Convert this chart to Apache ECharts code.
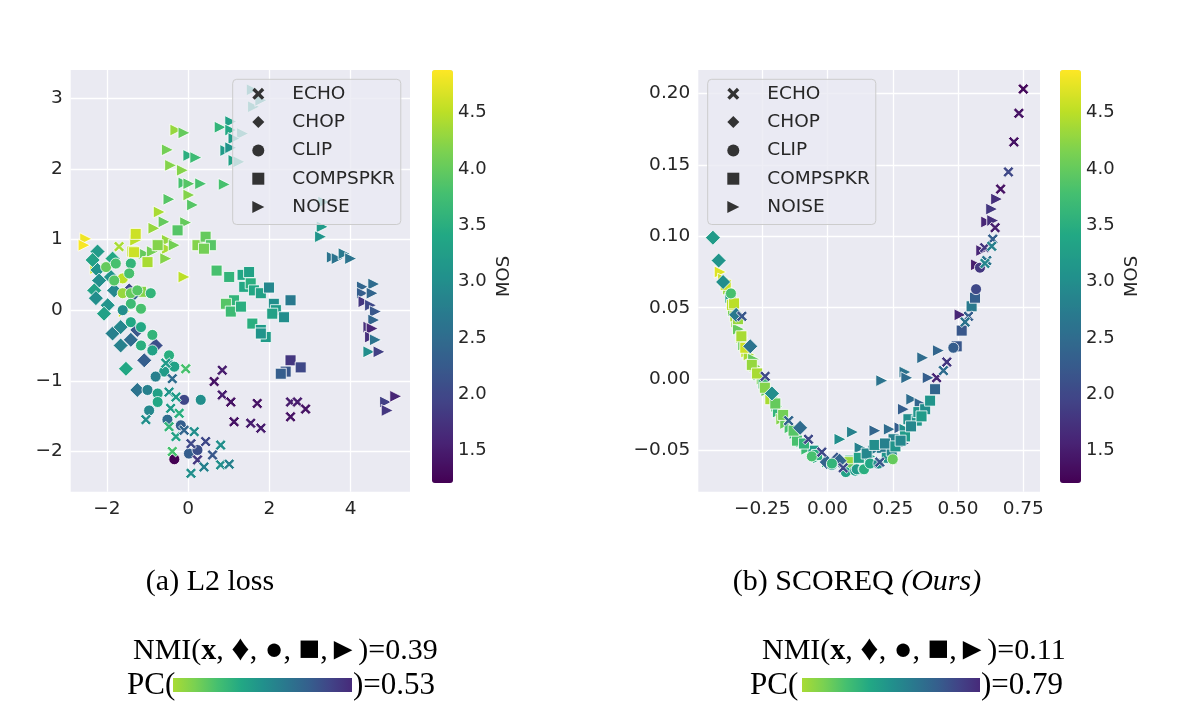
<!DOCTYPE html>
<html>
<head>
<meta charset="utf-8">
<script src="https://cdn.jsdelivr.net/npm/echarts@6.0.0/dist/echarts.min.js"></script>
<style>
  html, body { margin: 0; padding: 0; background: #fff; }
  #main { width: 1183px; height: 703px; }
</style>
</head>
<body>
<div id="main"></div>
<script>
// [x, y, MOS]
const l2Echo = [[-0.06,-0.83,3.8],[0.84,-0.85,1.5],[0.64,-1.01,1.4],[0.84,-1.20,1.5],[1.05,-1.30,1.4],[1.70,-1.32,1.4],
  [2.52,-1.30,1.5],[2.69,-1.30,1.5],[2.89,-1.40,1.4],[2.52,-1.51,1.4],[1.13,-1.58,1.4],[1.54,-1.60,1.5],[1.79,-1.67,1.5],
  [-0.55,-0.75,3.2],[-0.39,-0.97,2.5],[-0.47,-1.16,3.1],[-0.30,-1.23,3.2],[-0.43,-1.39,3.2],[-0.22,-1.46,3.5],
  [-1.04,-1.55,3.0],[-0.47,-1.65,3.6],[-0.30,-1.79,3.3],[-0.10,-1.70,2.4],[0.15,-1.72,3.0],[0.07,-1.89,2.0],
  [0.43,-1.86,2.0],[0.80,-1.91,3.0],[0.23,-2.12,1.8],[0.39,-2.22,2.8],[0.80,-2.19,3.0],[1.01,-2.18,2.8],
  [0.07,-2.31,3.0],[-0.39,-2.00,3.8],[0.60,-2.05,2.2],[-1.70,0.90,4.4]];
const l2Chop = [[-2.23,0.83,3.2],[-2.35,0.71,3.3],[-1.86,0.73,3.4],[-2.23,0.57,3.1],[-2.19,0.42,3.0],[-2.31,0.28,3.3],
  [-2.27,0.17,3.0],[-1.98,0.07,3.1],[-2.07,-0.05,3.3],[-1.86,-0.33,2.8],[-1.66,-0.50,2.8],[-1.41,-0.42,2.5],
  [-1.25,-0.28,2.2],[-0.80,-0.50,2.1],[-1.53,-0.83,3.4],[-1.25,-1.13,2.6],[-1.45,0.28,2.0],[-1.66,-0.24,2.9],
  [-1.37,0.21,2.4],[-1.08,-0.71,2.3],[-1.90,0.47,3.1],[-1.82,0.28,2.9]];
const l2Clip = [[-2.02,0.61,4.0],[-1.78,0.66,3.8],[-1.61,0.45,4.5],[-1.82,0.42,3.9],[-1.41,0.66,3.6],[-1.45,0.52,3.8],
  [-1.61,0.24,4.3],[-1.41,0.24,4.0],[-1.25,0.28,3.9],[-0.92,0.24,3.6],[-1.41,0.09,3.7],[-1.16,0.02,3.8],
  [-1.61,0.00,3.0],[-1.41,-0.17,3.4],[-1.16,-0.24,3.4],[-0.88,-0.35,3.6],[-1.16,-0.50,3.5],[-0.88,-0.57,3.3],
  [-0.47,-0.64,3.5],[-0.43,-0.78,3.1],[-0.34,-0.80,3.3],[-0.59,-0.87,3.2],[-0.80,-0.94,2.8],[-1.00,-1.13,2.8],
  [-0.75,-1.18,3.3],[-0.75,-1.30,3.4],[-0.96,-1.42,2.9],[-0.51,-1.55,2.5],[-0.18,-1.63,2.3],[-0.10,-1.27,2.0],
  [0.31,-1.27,3.0],[0.02,-2.03,2.3],[0.23,-1.98,2.1],[-0.34,-2.11,1.2]];
const l2Compspkr = [[-1.29,1.08,4.6],[-1.37,0.83,4.5],[-1.00,0.68,4.4],[-0.75,0.92,4.2],[-0.26,1.13,3.9],[0.23,0.92,4.2],
  [0.43,1.04,4.0],[0.56,0.92,3.9],[0.39,0.87,4.1],[0.70,0.56,3.8],[1.01,0.47,3.6],[1.34,0.50,3.4],[1.50,0.54,3.3],
  [1.38,0.33,3.4],[1.54,0.38,3.5],[1.62,0.28,3.4],[1.79,0.24,3.3],[1.99,0.32,2.9],[2.11,0.09,3.0],[2.16,0.00,3.2],
  [2.07,-0.05,3.3],[2.36,-0.10,3.0],[2.52,0.14,2.7],[1.58,-0.19,3.5],[1.79,-0.28,3.2],[1.91,-0.38,3.2],
  [1.13,0.14,3.6],[0.93,0.09,3.9],[1.05,-0.02,3.7],[1.30,0.05,3.5],[1.79,-0.33,3.1],[2.52,-0.71,1.8],
  [2.77,-0.81,2.0],[2.40,-0.87,2.2],[2.28,-0.90,2.3],[-1.33,0.82,4.6],[-1.16,0.26,4.2]];
const l2Noise = [[1.58,3.12,3.2],[1.61,2.88,3.3],[1.79,2.97,3.2],[1.05,2.67,3.3],[0.79,2.59,3.6],[1.05,2.55,3.4],
  [1.34,2.50,3.3],[1.13,2.43,3.2],[0.93,2.26,3.2],[1.05,2.30,3.1],[1.13,2.12,3.3],[1.25,2.10,3.4],[-0.30,2.55,4.3],
  [-0.10,2.51,4.0],[-0.51,2.27,4.1],[0.02,2.19,3.5],[0.19,2.16,3.7],[-0.43,2.05,4.2],[-0.14,1.98,4.2],
  [-0.10,1.80,3.8],[0.02,1.79,3.9],[0.31,1.79,3.8],[0.89,1.78,3.8],[-0.47,1.57,3.9],[0.02,1.63,4.2],[0.11,1.49,3.9],
  [-0.71,1.39,4.4],[-0.84,1.16,4.3],[-0.59,1.25,4.0],[-0.06,1.24,4.0],[-2.52,1.01,4.8],[-2.56,0.92,4.85],
  [3.30,1.18,3.2],[3.26,1.04,3.1],[3.34,1.53,3.2],[3.55,0.75,2.6],[3.67,0.73,2.6],[3.84,0.80,2.7],[4.00,0.73,2.6],
  [4.29,0.33,2.4],[4.57,0.37,2.5],[4.29,0.24,2.3],[4.53,0.24,2.4],[4.33,0.12,1.8],[4.49,0.07,2.0],[4.61,-0.02,2.2],
  [4.57,-0.14,2.4],[4.45,-0.24,1.7],[4.53,-0.26,1.6],[4.49,-0.38,1.7],[4.61,-0.42,2.6],[4.45,-0.59,3.0],
  [4.70,-0.59,1.9],[4.86,-1.30,1.9],[5.11,-1.22,1.6],[4.90,-1.42,1.8],[-0.10,0.47,4.5],[-1.57,-0.02,4.6],
  [-1.08,0.80,4.0],[-0.88,0.83,4.1],[-0.67,0.92,4.2],[-0.51,0.99,4.3],[-0.51,0.87,4.4],[-0.55,0.73,4.2],
  [-0.34,0.92,4.1],[-1.29,0.99,4.5],[-2.27,0.59,4.6],[-1.16,0.28,4.4]];

const sqEcho = [[-0.328,0.044,2.2],[-0.239,0.002,2.0],[-0.149,-0.029,2.4],[-0.073,-0.042,2.0],[-0.022,-0.051,2.0],
  [0.060,-0.062,2.0],[0.200,-0.058,2.2],[0.418,0.001,1.6],[0.457,0.012,1.8],[0.444,0.006,2.5],[0.540,0.044,2.3],
  [0.527,0.040,2.6],[0.610,0.083,2.6],[0.603,0.081,2.9],[0.602,0.092,1.8],[0.633,0.098,2.3],[0.629,0.093,2.8],
  [0.642,0.106,1.5],[0.663,0.133,1.4],[0.693,0.145,2.0],[0.714,0.166,1.4],[0.733,0.186,1.4],[0.750,0.203,1.3]];
const sqChop = [[-0.439,0.099,3.2],[-0.417,0.083,3.1],[-0.400,0.068,3.0],[-0.350,0.045,2.7],[-0.296,0.023,2.6],
  [-0.213,-0.010,3.0],[-0.105,-0.034,2.5],[-0.003,-0.058,2.4],[0.036,-0.056,2.2],[0.046,-0.057,2.4]];
const sqClip = [[-0.370,0.060,3.8],[-0.060,-0.054,3.8],[0.017,-0.060,3.0],[0.017,-0.059,3.6],[0.070,-0.065,3.3],
  [0.106,-0.064,3.2],[0.112,-0.063,3.2],[0.138,-0.063,3.4],[0.140,-0.063,3.5],[0.163,-0.059,3.4],[0.195,-0.059,3.0],
  [0.250,-0.056,4.0],[0.482,0.022,2.3],[0.569,0.063,2.0],[0.584,0.078,1.8]];
const sqCompspkr = [[-0.372,0.057,3.3],[-0.366,0.052,4.5],[-0.353,0.044,4.4],[-0.245,-0.003,3.7],[-0.219,-0.014,4.4],
  [-0.117,-0.043,3.8],[-0.054,-0.050,3.2],[0.074,-0.059,4.3],[0.087,-0.057,3.4],[0.084,-0.058,4.3],[0.080,-0.063,4.0],
  [0.208,-0.048,2.7],[0.227,-0.055,3.1],[0.246,-0.050,2.9],[0.253,-0.042,2.8],[0.297,-0.040,3.2],[0.310,-0.028,3.0],
  [0.342,-0.029,3.1],[0.348,-0.023,3.1],[0.374,-0.021,3.0],[0.393,-0.015,3.1],[0.412,-0.007,2.4],[0.495,0.023,2.2],
  [0.514,0.034,2.2],[0.552,0.051,2.7],[0.565,0.057,2.3],
  [-0.390,0.066,4.6],[-0.358,0.053,4.5],[-0.343,0.042,4.3],[-0.330,0.030,4.4],[-0.315,0.022,4.6],[-0.290,0.010,4.3],
  [-0.270,0.004,4.4],[-0.240,-0.006,4.2],[-0.200,-0.017,4.0],[-0.170,-0.025,4.1],[-0.130,-0.036,3.9],
  [-0.090,-0.045,3.6],[-0.040,-0.053,3.5],[0.120,-0.055,3.3],[0.150,-0.052,2.9],[0.180,-0.046,3.0],
  [0.220,-0.045,2.8],[0.260,-0.047,3.1],[0.280,-0.043,2.9],[0.320,-0.033,2.9],[0.360,-0.026,3.2]];
const sqNoise = [[-0.411,0.075,4.7],[-0.398,0.070,4.6],[-0.379,0.063,4.3],[-0.360,0.048,4.1],[-0.347,0.040,4.2],
  [-0.341,0.035,4.0],[-0.328,0.029,4.3],[-0.321,0.024,4.0],[-0.309,0.019,4.5],[-0.300,0.017,4.4],[-0.283,0.014,4.0],
  [-0.277,0.009,4.2],[-0.263,0.003,3.9],[-0.250,0.000,4.1],[-0.232,-0.008,4.0],[-0.210,-0.013,3.9],[-0.194,-0.019,3.8],
  [-0.188,-0.023,3.6],[-0.175,-0.028,4.2],[-0.160,-0.031,4.0],[-0.143,-0.034,3.8],[-0.124,-0.038,3.6],
  [-0.100,-0.044,3.5],[-0.079,-0.049,3.7],[-0.050,-0.052,3.6],[-0.034,-0.055,3.4],[0.000,-0.058,3.5],
  [0.048,-0.042,3.0],[0.096,-0.037,2.8],[0.182,-0.036,2.4],[0.237,-0.035,2.5],[0.278,-0.034,2.3],[0.125,-0.048,2.8],
  [0.163,-0.054,3.2],[0.176,-0.050,2.7],[0.291,-0.045,2.2],[0.297,-0.035,3.0],[0.323,-0.014,2.5],[0.355,-0.017,2.4],
  [0.291,-0.021,2.3],[0.297,0.005,2.6],[0.304,0.001,2.5],[0.208,-0.001,2.6],[0.365,0.015,2.5],[0.425,0.020,2.4],
  [0.386,0.001,2.3],[0.508,0.045,1.6],[0.571,0.080,1.5],[0.591,0.090,1.6],[0.610,0.110,1.6],[0.633,0.111,1.7],
  [0.629,0.119,1.8],[0.648,0.126,1.7]];

const typeNames = ['ECHO', 'CHOP', 'CLIP', 'COMPSPKR', 'NOISE'];
const l2Ticks = { x: [-2, 0, 2, 4], y: [-2, -1, 0, 1, 2, 3] };
const sqTicks = { x: [-0.25, 0, 0.25, 0.5, 0.75], y: [-0.05, 0, 0.05, 0.1, 0.15, 0.2] };
const mosTicks = [1.5, 2.0, 2.5, 3.0, 3.5, 4.0, 4.5];
const mosRange = [1.21, 4.88];
const scores = { l2: { nmi: '0.39', pc: '0.53' }, sq: { nmi: '0.11', pc: '0.79' } };

const VIRIDIS = ['#440154', '#482475', '#414487', '#355f8d', '#2a788e', '#21918c',
  '#22a884', '#44bf70', '#7ad151', '#bddf26', '#fde725'];
// marker shapes, all on a 10x10 box so the legend keeps their aspect
const SYMBOLS = {
  ECHO: ['path://M2,0L5,3L8,0L10,2L7,5L10,8L8,10L5,7L2,10L0,8L3,5L0,2Z', 11],
  CHOP: ['path://M5,0L10,5L5,10L0,5Z', 15],
  CLIP: ['circle', 11],
  COMPSPKR: ['path://M0,0L10,0L10,10L0,10Z', 11],
  NOISE: ['path://M0,0L10,5L0,10Z', 12]
};
const INK = '#262626';
const SANS = 'DejaVu Sans';
const SERIF = 'Liberation Serif';

const minus = (v, d) => (v < 0 ? '\u2212' : '') + Math.abs(v).toFixed(d);

function scatter(name, data, gi) {
  return {
    type: 'scatter', name, data, xAxisIndex: gi, yAxisIndex: gi,
    symbol: SYMBOLS[name][0], symbolSize: SYMBOLS[name][1],
    itemStyle: { borderColor: '#ffffff', borderWidth: 0.8, opacity: 1 },
    emphasis: { disabled: true }
  };
}

function plotAxes(gi, ticks, min, max, dec) {
  return {
    gridIndex: gi, type: 'value', min, max,
    axisLine: { show: false },
    axisTick: { show: false, customValues: ticks },
    axisLabel: { customValues: ticks, formatter: v => minus(v, dec), color: INK, fontSize: 18.5, fontFamily: SANS, margin: 8 },
    splitLine: { show: true, lineStyle: { color: '#ffffff', width: 1.3 } }
  };
}

function cbarAxis(gi) {
  return {
    gridIndex: gi, type: 'value', position: 'right', min: mosRange[0], max: mosRange[1],
    axisLine: { show: false },
    axisTick: { show: true, length: 4, customValues: mosTicks, lineStyle: { color: INK, width: 1 } },
    axisLabel: { customValues: mosTicks, formatter: v => v.toFixed(1), color: INK, fontSize: 18, fontFamily: SANS, margin: 5 },
    splitLine: { show: false },
    name: 'MOS', nameLocation: 'middle', nameRotate: 90, nameGap: 42,
    nameTextStyle: { color: INK, fontSize: 18, fontFamily: SANS }
  };
}

// the legend box hugs the icon, so the left padding sets where the markers sit
function legendAt(left) {
  return {
    data: typeNames.map(n => ({ name: n, itemStyle: { color: '#333333', borderWidth: 0 } })),
    orient: 'vertical', left, top: 79.3,
    itemWidth: 58, itemHeight: 12, itemGap: 9.3,
    padding: [5, 6, 8, 19.6],
    backgroundColor: 'rgba(234,234,242,0.8)', borderColor: '#cccccc', borderWidth: 1, borderRadius: 4,
    textStyle: { fontSize: 18.5, color: INK, fontFamily: SANS, lineHeight: 18 },
    selectedMode: false
  };
}

function vmap(left, seriesIndex) {
  return {
    type: 'continuous', min: mosRange[0], max: mosRange[1], dimension: 2, seriesIndex,
    inRange: { color: VIRIDIS }, calculable: false, hoverLink: false,
    left, top: 70, itemWidth: 21, itemHeight: 413, padding: 0
  };
}

const pcGradient = {
  type: 'linear', x: 0, y: 0, x2: 1, y2: 0,
  colorStops: [
    { offset: 0, color: '#a8db34' }, { offset: 0.12, color: '#7ad151' }, { offset: 0.25, color: '#44bf70' },
    { offset: 0.38, color: '#22a884' }, { offset: 0.5, color: '#21918c' }, { offset: 0.63, color: '#2a788e' },
    { offset: 0.76, color: '#355f8d' }, { offset: 0.88, color: '#414487' }, { offset: 1, color: '#472a7a' }
  ]
};

function txt(x, y, text, size, align, rich) {
  return {
    type: 'text', x, y, silent: true,
    style: {
      text, fill: '#000', fontSize: size, fontFamily: SERIF,
      align, textAlign: align, verticalAlign: 'middle', textVerticalAlign: 'middle', rich
    }
  };
}

const nmiRich = {
  n: { fontSize: 30, fontFamily: SERIF, fill: '#000' },
  b: { fontSize: 30, fontFamily: SERIF, fontWeight: 'bold', fill: '#000' },
  s: { fontSize: 36, fontFamily: SERIF, fill: '#000' },
  t: { fontSize: 31, fontFamily: SERIF, fill: '#000' },
  c: { fontSize: 31, fontFamily: SERIF, fill: '#000' }
};
const nmiText = v => '{n|NMI(}{b|x}{n|, }{s|\u2666}{n|, }{c|\u25CF}{n|, }{s|\u25A0}{n|,}{t|\u25BA}{n|)=' + v + '}';

const chart = echarts.init(document.getElementById('main'), null, { renderer: 'canvas' });

chart.setOption({
  animation: false,
  backgroundColor: '#ffffff',
  grid: [
    { left: 70.7, top: 70, width: 339.3, height: 421.7, show: true, backgroundColor: '#eaeaf2', borderWidth: 0 },
    { left: 698.3, top: 70, width: 341.7, height: 421.7, show: true, backgroundColor: '#eaeaf2', borderWidth: 0 },
    { left: 432, top: 70, width: 21, height: 413, show: false },
    { left: 1060, top: 70, width: 21, height: 413, show: false }
  ],
  xAxis: [
    plotAxes(0, l2Ticks.x, -2.89, 5.46, 0),
    plotAxes(1, sqTicks.x, -0.495, 0.814, 2),
    { gridIndex: 2, type: 'value', show: false },
    { gridIndex: 3, type: 'value', show: false }
  ],
  yAxis: [
    plotAxes(0, l2Ticks.y, -2.57, 3.40, 0),
    plotAxes(1, sqTicks.y, -0.0787, 0.2163, 2),
    cbarAxis(2),
    cbarAxis(3)
  ],
  visualMap: [vmap(432, [0, 1, 2, 3, 4]), vmap(1060, [5, 6, 7, 8, 9])],
  legend: [legendAt(232.7), legendAt(707.7)],
  series: [
    scatter('NOISE', l2Noise, 0), scatter('COMPSPKR', l2Compspkr, 0), scatter('CHOP', l2Chop, 0),
    scatter('CLIP', l2Clip, 0), scatter('ECHO', l2Echo, 0),
    scatter('NOISE', sqNoise, 1), scatter('COMPSPKR', sqCompspkr, 1), scatter('CHOP', sqChop, 1),
    scatter('CLIP', sqClip, 1), scatter('ECHO', sqEcho, 1)
  ],
  graphic: [
    txt(210, 582, '(a) L2 loss', 30, 'center'),
    txt(857, 582, '{n|(b) SCOREQ }{i|(Ours)}', 30, 'center', {
      n: { fontSize: 30, fontFamily: SERIF, fill: '#000' },
      i: { fontSize: 30, fontFamily: SERIF, fontStyle: 'italic', fill: '#000' }
    }),
    txt(133, 651, nmiText(scores.l2.nmi), 30, 'left', nmiRich),
    txt(762, 651, nmiText(scores.sq.nmi), 30, 'left', nmiRich),
    txt(127, 686, 'PC(', 31, 'left'),
    { type: 'rect', silent: true, shape: { x: 173, y: 678, width: 179, height: 14 }, style: { fill: pcGradient } },
    txt(353, 686, ')=' + scores.l2.pc, 31, 'left'),
    txt(750, 686, 'PC(', 31, 'left'),
    { type: 'rect', silent: true, shape: { x: 802, y: 678, width: 178, height: 14 }, style: { fill: pcGradient } },
    txt(981, 686, ')=' + scores.sq.pc, 31, 'left')
  ]
});
</script>
</body>
</html>
